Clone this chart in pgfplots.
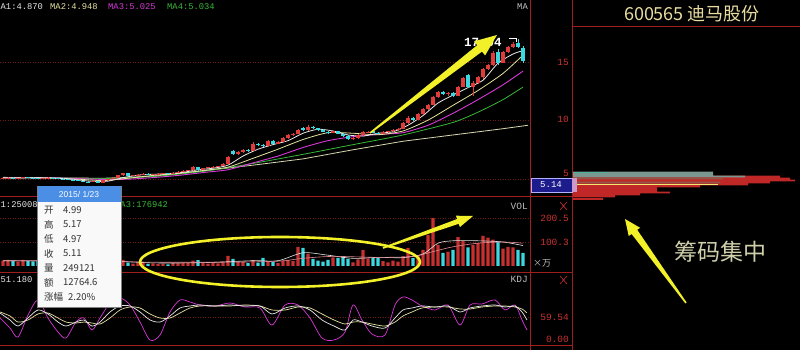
\documentclass[border=0pt]{standalone}
\usepackage{fontspec}
\usepackage{pgfplots}
\pgfplotsset{compat=1.18}
\usepackage{pgfplotstable}
\setmainfont{Liberation Sans}
\newfontfamily\mono{Liberation Mono}
\newfontfamily\cjk{Noto Sans CJK SC}

\definecolor{bgred}{HTML}{A01E1E}
\definecolor{gridred}{HTML}{6A1818}
\definecolor{upred}{HTML}{E03C3C}
\definecolor{dncyan}{HTML}{3CD8E0}
\definecolor{volred}{HTML}{C83030}
\definecolor{ma1}{HTML}{E8E8E8}
\definecolor{ma2}{HTML}{E6E2A0}
\definecolor{ma3}{HTML}{D838D8}
\definecolor{ma4}{HTML}{38B838}
\definecolor{ma5}{HTML}{D8D8B0}
\definecolor{vpink}{HTML}{E08890}
\definecolor{arrowyel}{HTML}{F2F028}
\definecolor{labred}{HTML}{C83232}
\definecolor{titleyel}{HTML}{E8DCA0}
\definecolor{chipteal}{HTML}{4FB0A0}
\definecolor{chipgray}{HTML}{7A9890}
\definecolor{chipbrown}{HTML}{905848}
\definecolor{chipred}{HTML}{C02828}
\definecolor{chipyel}{HTML}{F4E870}
\definecolor{tipblue}{HTML}{4A8EE6}
\definecolor{boxblue}{HTML}{1C1C8C}
\definecolor{tiptext}{HTML}{333333}

\newcommand{\sm}{\mono\fontsize{8.8}{10}\selectfont}
\newcommand{\rl}{\mono\fontsize{9.5}{11}\selectfont}
\newcommand{\tp}{\cjk\fontsize{9.5}{11}\selectfont}

\pgfplotstableread{
i o h l c v
0 4.78 4.86 4.75 4.82 22
1 4.82 4.90 4.80 4.86 25
2 4.86 4.88 4.76 4.78 20
3 4.78 4.85 4.76 4.82 18
4 4.82 4.93 4.80 4.90 26
5 4.90 4.92 4.83 4.85 21
6 4.85 4.87 4.77 4.80 19
7 4.80 4.82 4.72 4.75 23
8 4.75 4.82 4.73 4.79 17
9 4.79 4.88 4.77 4.85 24
10 4.85 4.87 4.79 4.82 20
11 4.82 4.84 4.74 4.76 18
12 4.76 4.80 4.68 4.70 22
13 4.70 4.74 4.62 4.66 20
14 4.66 4.70 4.58 4.62 16
15 4.62 4.68 4.53 4.56 19
16 4.56 4.60 4.46 4.50 24
17 4.50 4.54 4.40 4.46 27
18 4.46 4.56 4.44 4.52 21
19 4.56 4.60 4.38 4.42 26
20 4.42 4.66 4.40 4.62 28
21 4.62 4.78 4.60 4.74 24
22 4.74 4.88 4.70 4.84 20
23 4.84 5.10 4.82 5.05 22
24 5.05 5.30 5.00 5.22 25
25 5.22 5.24 4.98 5.02 14
26 5.02 5.10 4.98 5.06 10
27 5.06 5.14 5.02 5.11 12
28 5.11 5.24 5.08 5.20 15
29 5.20 5.22 5.10 5.14 9
30 5.14 5.20 5.10 5.16 11
31 5.16 5.24 5.12 5.21 8
32 5.21 5.30 5.18 5.26 10
33 5.26 5.28 5.18 5.22 7
34 5.22 5.34 5.20 5.30 12
35 5.30 5.40 5.26 5.36 11
36 5.36 5.50 5.33 5.46 14
37 5.46 5.56 5.42 5.50 12
38 5.50 5.85 5.48 5.80 22
39 5.80 5.82 5.45 5.52 24
40 5.52 5.74 5.50 5.70 12
41 5.70 5.80 5.66 5.75 10
42 5.75 5.84 5.70 5.80 13
43 5.80 5.90 5.76 5.86 11
44 5.86 6.10 5.84 6.05 18
45 6.05 6.75 6.02 6.65 42
46 7.20 7.25 6.85 6.92 30
47 6.92 7.20 6.88 7.12 16
48 7.12 7.40 7.05 7.32 18
49 7.32 7.36 7.10 7.18 12
50 7.18 7.95 7.15 7.85 24
51 7.85 7.92 7.60 7.68 14
52 7.68 7.80 7.55 7.62 34
53 7.62 8.20 7.60 8.10 20
54 8.10 8.15 7.78 7.84 16
55 7.84 8.08 7.80 8.02 12
56 8.02 8.40 7.98 8.32 22
57 8.32 8.70 8.28 8.62 26
58 8.62 8.80 8.55 8.72 20
59 8.72 9.15 8.68 9.05 80
60 9.25 9.30 8.92 9.00 75
61 9.00 9.45 8.98 9.32 50
62 9.32 9.40 9.10 9.18 30
63 9.18 9.22 8.98 9.06 22
64 9.06 9.10 8.85 8.90 18
65 8.90 8.96 8.72 8.80 26
66 8.80 8.98 8.76 8.92 36
67 8.92 8.95 8.66 8.70 34
68 8.70 8.74 8.46 8.52 38
69 8.52 8.56 8.18 8.25 30
70 8.25 8.38 8.15 8.32 15
71 8.32 8.66 8.28 8.60 28
72 8.60 8.92 8.55 8.84 66
73 8.84 8.96 8.78 8.90 32
74 8.95 9.02 8.75 8.80 34
75 8.80 8.84 8.66 8.72 33
76 8.72 8.92 8.70 8.86 20
77 8.86 8.98 8.80 8.94 15
78 8.94 9.10 8.90 9.02 22
79 9.02 9.22 8.98 9.16 18
80 9.16 9.70 9.14 9.62 40
81 9.62 10.25 9.58 10.12 75
82 10.12 10.16 9.82 9.90 33
83 9.90 10.50 9.88 10.42 45
84 10.42 10.95 10.38 10.85 67
85 10.85 11.35 10.80 11.25 130
86 11.25 12.00 11.20 11.90 200
87 11.90 12.50 11.85 12.40 88
88 12.40 12.48 12.10 12.20 55
89 12.20 12.38 12.05 12.30 60
90 12.30 12.35 11.95 12.02 67
91 12.02 12.90 12.00 12.82 120
92 12.82 13.70 12.78 13.58 105
93 13.85 13.95 12.70 12.80 78
94 12.80 13.30 12.00 13.20 88
95 13.20 13.75 13.10 13.65 95
96 13.65 14.50 13.55 14.40 125
97 14.40 14.85 14.30 14.72 118
98 14.72 15.95 14.65 15.80 110
99 15.85 16.10 14.70 14.95 100
100 14.95 15.95 14.90 15.85 72
101 15.85 16.40 15.75 16.30 80
102 16.30 16.75 16.20 16.62 78
103 16.70 17.04 16.20 16.35 67
104 16.20 16.40 14.90 15.10 55
}\candles

\pgfplotsset{panel/.style={hide axis, scale only axis, anchor=south west, xmin=-0.6, xmax=105.4, clip=true}}

\begin{document}
\begin{tikzpicture}
\fill[black] (0,0) rectangle (800pt,350pt);
% dotted grid lines
\begin{scope}[shift={(0pt,350pt)}, x=1pt, y=-1pt]
\draw[gridred, line width=0.6pt, dash pattern=on 1pt off 1.5pt] (0,62)--(530,62) (0,120.5)--(530,120.5) (0,179)--(530,179) (0,218)--(530,218) (0,242)--(530,242) (0,317)--(530,317);
\end{scope}

% ---------- price panel ----------
\begin{axis}[panel, at={(0pt,154pt)}, width=530pt, height=196pt, ymin=3.246, ymax=20.439]
\addplot[ma5, line width=0.8pt] coordinates {(0,4.88) (20,4.80) (30,4.98) (40,5.45) (50,5.95) (60,6.5) (70,7.3) (80,8.05) (90,8.6) (100,9.15) (105,9.45)};
\addplot[ma4, line width=0.8pt, smooth, tension=0.4] coordinates {(0,4.85) (10,4.83) (20,4.78) (30,4.95) (40,5.4) (50,6.1) (60,6.9) (70,7.75) (80,8.6) (90,9.7) (95,10.6) (100,11.7) (104,12.8)};
\addplot[ma3, line width=0.9pt, smooth, tension=0.4] coordinates {(0,4.86) (10,4.84) (20,4.70) (25,4.72) (30,4.86) (35,5.05) (40,5.30) (45,5.55) (50,6.15) (55,6.75) (60,7.5) (65,8.1) (70,8.45) (75,8.65) (80,8.8) (85,9.45) (90,10.5) (95,11.7) (100,13.0) (104,14.2)};
\addplot[ma2, line width=0.8pt, smooth, tension=0.4] coordinates {(0,4.84) (5,4.84) (10,4.82) (15,4.72) (20,4.60) (25,4.80) (30,5.05) (35,5.22) (40,5.48) (45,5.78) (50,6.55) (55,7.35) (60,8.2) (65,8.8) (70,8.75) (75,8.62) (80,8.95) (85,9.9) (90,11.2) (95,12.5) (100,14.0) (104,15.6)};
\addplot[ma1, line width=0.8pt, smooth, tension=0.4] coordinates {(0,4.83) (3,4.82) (6,4.85) (9,4.82) (12,4.78) (15,4.66) (18,4.52) (21,4.55) (24,4.85) (27,5.08) (30,5.15) (33,5.20) (36,5.32) (39,5.55) (42,5.68) (45,5.95) (48,6.75) (51,7.35) (54,7.75) (57,8.1) (60,8.75) (63,9.1) (66,8.95) (69,8.6) (72,8.5) (75,8.75) (78,8.88) (81,9.45) (84,10.3) (87,11.4) (90,12.1) (93,12.75) (96,13.4) (99,14.9) (102,15.7) (104,16.0)};
% wicks
\addplot[quiver={u=0,v=\thisrow{h}-\thisrow{l}}, color=upred, line width=0.9pt, restrict expr to domain={\thisrow{c}-\thisrow{o}}{0:100}] table[x=i,y=l]{\candles};
\addplot[quiver={u=0,v=\thisrow{h}-\thisrow{l}}, color=dncyan, line width=0.9pt, restrict expr to domain={\thisrow{c}-\thisrow{o}}{-100:0}] table[x=i,y=l]{\candles};
% bodies
\addplot[quiver={u=0,v=\thisrow{c}-\thisrow{o}}, color=upred, line width=3.6pt, restrict expr to domain={\thisrow{c}-\thisrow{o}}{0:100}] table[x=i,y=o]{\candles};
\addplot[quiver={u=0,v=\thisrow{c}-\thisrow{o}}, color=dncyan, line width=3.6pt, restrict expr to domain={\thisrow{c}-\thisrow{o}}{-100:0}] table[x=i,y=o]{\candles};
\end{axis}

% ---------- volume panel ----------
\begin{axis}[panel, at={(0pt,78pt)}, width=530pt, height=76pt, ymin=-25, ymax=291.7]
\addplot[ybar, bar width=3.4pt, bar shift=0pt, fill=volred, draw=none, restrict expr to domain={\thisrow{c}-\thisrow{o}}{0:100}] table[x=i,y=v]{\candles};
\addplot[ybar, bar width=3.4pt, bar shift=0pt, fill=dncyan, draw=none, restrict expr to domain={\thisrow{c}-\thisrow{o}}{-100:0}] table[x=i,y=v]{\candles};
\addplot[ma1, line width=0.6pt, smooth, tension=0.5] coordinates {(0,22) (10,21) (20,22) (30,13) (40,14) (50,22) (55,22) (60,55) (65,45) (70,32) (75,36) (80,35) (84,50) (87,95) (90,105) (95,105) (100,100) (104,85)};
\addplot[vpink, line width=0.6pt, smooth, tension=0.5] coordinates {(0,22) (15,21) (30,16) (45,16) (55,20) (60,32) (66,40) (75,36) (82,40) (86,60) (90,80) (95,95) (100,100) (104,95)};
\end{axis}

% ---------- KDJ panel ----------
\begin{axis}[panel, at={(0pt,5pt)}, width=530pt, height=73pt, ymin=-16.2, ymax=181.1]
\addplot[ma3, line width=0.7pt, smooth, tension=0.5] coordinates {(-0.6,56.8) (1.4,29.7) (3,5.4) (5,64.9) (7,105.4) (9,56.8) (11,18.9) (12.6,2.7) (14.6,45.9) (16.2,56.8) (17.8,24.3) (19.4,56.8) (21.4,97.3) (23.4,110.8) (25.4,91.9) (27.4,45.9) (29.4,-2.7) (31.4,10.8) (33.4,73) (35.4,105.4) (37.4,100) (39.4,91.9) (42.4,89.2) (45.4,97.3) (48.4,86.5) (51.4,83.8) (53.8,37.8) (56.4,91.9) (59,91.9) (61.4,56.8) (63.8,2.7) (66.2,-2.7) (68.4,18.9) (70,91.9) (71.8,51.4) (73.8,13.5) (76.4,10.8) (78.4,91.9) (80,113.5) (81.8,105.4) (83.8,89.2) (86.4,78.4) (89,91.9) (91.4,37.8) (93.4,91.9) (95.8,94.6) (98.4,105.4) (100.4,78.4) (102.4,91.9) (103.8,51.4) (104.8,24.3)};
\addplot[ma2, line width=0.7pt, smooth, tension=0.5] coordinates {(-0.6,73) (1.4,62.2) (3,45.9) (5,51.4) (7,67.6) (9,70.3) (11,56.8) (12.6,45.9) (14.6,43.2) (16.2,45.9) (17.8,43.2) (19.4,40.5) (21.4,56.8) (23.4,78.4) (25.4,86.5) (27.4,83.8) (29.4,67.6) (31.4,56.8) (33.4,56.8) (35.4,70.3) (37.4,83.8) (39.4,89.2) (42.4,89.2) (45.4,89.2) (48.4,91.9) (51.4,89.2) (53.8,78.4) (56.4,78.4) (59,86.5) (61.4,83.8) (63.8,67.6) (66.2,51.4) (68.4,40.5) (70,45.9) (71.8,45.9) (73.8,40.5) (76.4,35.1) (78.4,45.9) (80,62.2) (81.8,73) (83.8,83.8) (86.4,86.5) (89,86.5) (91.4,81.1) (93.4,81.1) (95.8,86.5) (98.4,89.2) (100.4,89.2) (102.4,86.5) (103.8,81.1) (104.8,70.3)};
\addplot[ma1, line width=0.7pt, smooth, tension=0.5] coordinates {(-0.6,70.3) (1.4,51.4) (3,35.1) (5,56.8) (7,78.4) (9,67.6) (11,45.9) (12.6,35.1) (14.6,45.9) (16.2,51.4) (17.8,35.1) (19.4,45.9) (21.4,73) (23.4,89.2) (25.4,89.2) (27.4,73) (29.4,51.4) (31.4,45.9) (33.4,62.2) (35.4,83.8) (37.4,89.2) (39.4,91.9) (42.4,89.2) (45.4,91.9) (48.4,89.2) (51.4,89.2) (53.8,67.6) (56.4,83.8) (59,89.2) (61.4,78.4) (63.8,51.4) (66.2,35.1) (68.4,24.3) (70,51.4) (71.8,45.9) (73.8,35.1) (76.4,29.7) (78.4,56.8) (80,78.4) (81.8,83.8) (83.8,89.2) (86.4,86.5) (89,89.2) (91.4,73) (93.4,83.8) (95.8,89.2) (98.4,91.9) (100.4,86.5) (102.4,89.2) (103.8,73) (104.8,51.4)};
\end{axis}

% ---------- chip distribution ----------
\begin{axis}[hide axis, scale only axis, anchor=south west, at={(573pt,139.8pt)}, width=227pt, height=60.4pt, xmin=0, xmax=227, ymin=2.0, ymax=7.3, clip=false]
\addplot[xbar, bar width=0.16, bar shift=0pt, fill=chipred, draw=none] coordinates {(207,4.956) (217,4.781) (222,4.605) (197,4.430) (175,4.254) (127,4.079) (84,3.904) (84,3.728) (97,3.553) (67,3.377) (42,3.202) (30,2.982)};
\addplot[xbar, bar width=0.16, bar shift=0pt, fill=chipgray, draw=none] coordinates {(140,5.307) (140,5.132) (172,4.956)};
\addplot[xbar, bar width=0.16, bar shift=0pt, fill=chipbrown, draw=none] coordinates {(150,4.781) (147,4.430)};
\addplot[xbar, bar width=0.16, bar shift=0pt, fill=chipteal, draw=none] coordinates {(34,5.307)};
\addplot[xbar, bar width=0.16, bar shift=0pt, fill=chipyel, draw=none] coordinates {(145,4.254)};
\end{axis}

% ---------- overlays ----------
\begin{scope}[shift={(0pt,350pt)}, x=1pt, y=-1pt]
\draw[bgred, line width=0.9pt] (530,0)--(530,350) (572,0)--(572,350) (0,196)--(572,196) (0,272.5)--(572,272.5) (0,345.5)--(572,345.5) (572,26)--(800,26);
% top legend
\node[anchor=west, inner sep=0, text=ma1, font=\sm] at (0.5,7) {A1:4.870};
\node[anchor=west, inner sep=0, text=ma2, font=\sm] at (50,7) {MA2:4.948};
\node[anchor=west, inner sep=0, text=ma3, font=\sm] at (108,7) {MA3:5.025};
\node[anchor=west, inner sep=0, text=ma4, font=\sm] at (167,7) {MA4:5.034};
\node[anchor=east, inner sep=0, text=ma1!85!black, font=\sm] at (528,7) {MA};
\node[anchor=west, inner sep=0, text=white, font=\mono\bfseries\fontsize{12.5}{14}\selectfont] at (464,42) {17.04};
\draw[white, line width=0.7pt] (509,38)--(516,38)--(516,42);
% volume legend
\node[anchor=west, inner sep=0, text=ma1, font=\sm] at (0.5,205) {1:25008};
\node[anchor=west, inner sep=0, text=ma4, font=\sm] at (115,205) {MA3:176942};
\node[anchor=east, inner sep=0, text=ma1!80!black, font=\rl] at (528,206) {VOL};
% kdj legend
\node[anchor=west, inner sep=0, text=ma1, font=\sm] at (0.5,280) {51.180};
\node[anchor=east, inner sep=0, text=ma1!80!black, font=\rl] at (528,279) {KDJ};
% right axis labels
\node[anchor=east, inner sep=0, text=labred, font=\rl] at (569,62) {15};
\node[anchor=east, inner sep=0, text=labred, font=\rl] at (569,119) {10};
\node[anchor=east, inner sep=0, text=labred, font=\rl] at (569,173) {5};
\node[anchor=east, inner sep=0, text=labred, font=\rl] at (569,218) {200.5};
\node[anchor=east, inner sep=0, text=labred, font=\rl] at (569,242) {100.3};
\node[anchor=east, inner sep=0, text=labred, font=\rl] at (569,317) {59.54};
\node[anchor=east, inner sep=0, text=labred, font=\rl] at (569,339) {0.00};
\node[anchor=west, inner sep=0, text=ma1!80!black, font=\cjk\fontsize{9}{10}\selectfont] at (533,263) {×万};
\draw[labred, line width=0.6pt] (560,202)--(567,210) (560,210)--(567,202) (560,276)--(567,284) (560,284)--(567,276);
% current price box
\fill[boxblue] (531,178) rectangle (572,192);
\draw[white!70!blue, line width=0.4pt] (531,178) rectangle (572,192);
\fill[violet!40!white] (572,178) rectangle (577,192);
\node[text=white, inner sep=0, font=\mono\fontsize{9}{10}\selectfont] at (551,185) {5.14};
% titles
\node[text=titleyel, inner sep=0, font=\cjk\fontsize{18}{20}\selectfont] at (692,14) {600565\ 迪马股份};
\node[text=ma5!90!gray, inner sep=0, font=\cjk\fontsize{23}{26}\selectfont] at (720,252) {筹码集中};
% ellipse and arrows
\draw[arrowyel, line width=2.6pt] (280,262) ellipse [x radius=140, y radius=25];
\fill[arrowyel] (369.5,132.4) -- (477.2,45.2) -- (474.1,41.3) -- (497,35) -- (485.1,55.5) -- (482.0,51.6) -- (370.5,133.6) -- cycle;
\fill[arrowyel] (382.7,247.2) -- (457.1,219.0) -- (455.9,215.7) -- (473,216) -- (459.9,227.1) -- (458.7,223.8) -- (383.3,248.8) -- cycle;
\fill[arrowyel] (685.4,303.5) -- (631.6,234.0) -- (628.7,236.0) -- (625,219) -- (640.1,227.8) -- (637.2,229.8) -- (686.6,302.5) -- cycle;
% tooltip
\fill[white!95!gray] (37,186) rectangle (121,307);
\draw[gray, line width=0.5pt] (37,186) rectangle (121,307);
\fill[tipblue] (37.5,186.5) rectangle (120.5,202);
\node[text=white, inner sep=0, font=\fontsize{8.5}{10}\selectfont] at (79,194.5) {2015/ 1/23};
\node[anchor=west, inner sep=0, text=tiptext, font=\tp] at (44,210) {开};
\node[anchor=west, inner sep=0, text=tiptext, font=\tp] at (63,210) {4.99};
\node[anchor=west, inner sep=0, text=tiptext, font=\tp] at (44,224.5) {高};
\node[anchor=west, inner sep=0, text=tiptext, font=\tp] at (63,224.5) {5.17};
\node[anchor=west, inner sep=0, text=tiptext, font=\tp] at (44,239) {低};
\node[anchor=west, inner sep=0, text=tiptext, font=\tp] at (63,239) {4.97};
\node[anchor=west, inner sep=0, text=tiptext, font=\tp] at (44,253.5) {收};
\node[anchor=west, inner sep=0, text=tiptext, font=\tp] at (63,253.5) {5.11};
\node[anchor=west, inner sep=0, text=tiptext, font=\tp] at (44,268) {量};
\node[anchor=west, inner sep=0, text=tiptext, font=\tp] at (63,268) {249121};
\node[anchor=west, inner sep=0, text=tiptext, font=\tp] at (44,282.5) {额};
\node[anchor=west, inner sep=0, text=tiptext, font=\tp] at (63,282.5) {12764.6};
\node[anchor=west, inner sep=0, text=tiptext, font=\tp] at (44,297) {涨幅};
\node[anchor=west, inner sep=0, text=tiptext, font=\tp] at (68,297) {2.20\%};
\end{scope}
\pgfresetboundingbox
\path[use as bounding box] (0,0) rectangle (800pt,350pt);
\end{tikzpicture}
\end{document}
